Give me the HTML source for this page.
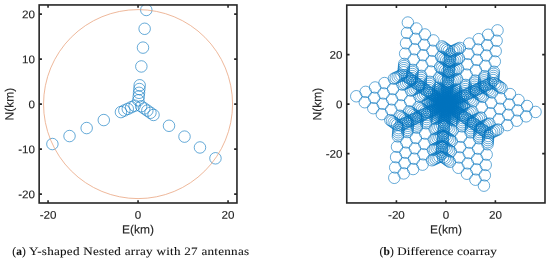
<!DOCTYPE html>
<html><head><meta charset="utf-8"><title>Figure</title>
<style>html,body{margin:0;padding:0;background:#fff}body{width:550px;height:265px;overflow:hidden}svg{display:block}</style>
</head><body>
<svg width="550" height="265" viewBox="0 0 550 265">
<rect width="550" height="265" fill="#fff"/>
<clipPath id="cl"><rect x="39.15" y="4.95" width="197.79999999999998" height="198.05"/></clipPath>
<clipPath id="cr"><rect x="346.75" y="5.1" width="198.25" height="197.85"/></clipPath>
<g clip-path="url(#cl)" fill="none">
<g stroke="#0072BD" stroke-width="0.6">
<circle cx="138.38" cy="100.33" r="5.75"/>
<circle cx="138.71" cy="96.57" r="5.75"/>
<circle cx="139.04" cy="92.80" r="5.75"/>
<circle cx="139.37" cy="89.04" r="5.75"/>
<circle cx="139.70" cy="85.27" r="5.75"/>
<circle cx="141.34" cy="66.44" r="5.75"/>
<circle cx="142.99" cy="47.62" r="5.75"/>
<circle cx="144.64" cy="28.79" r="5.75"/>
<circle cx="146.29" cy="9.96" r="5.75"/>
<circle cx="134.62" cy="105.70" r="5.75"/>
<circle cx="131.20" cy="107.29" r="5.75"/>
<circle cx="127.77" cy="108.89" r="5.75"/>
<circle cx="124.35" cy="110.49" r="5.75"/>
<circle cx="120.92" cy="112.09" r="5.75"/>
<circle cx="103.79" cy="120.07" r="5.75"/>
<circle cx="86.66" cy="128.06" r="5.75"/>
<circle cx="69.53" cy="136.05" r="5.75"/>
<circle cx="52.40" cy="144.04" r="5.75"/>
<circle cx="141.15" cy="106.27" r="5.75"/>
<circle cx="144.24" cy="108.44" r="5.75"/>
<circle cx="147.34" cy="110.60" r="5.75"/>
<circle cx="150.44" cy="112.77" r="5.75"/>
<circle cx="153.53" cy="114.94" r="5.75"/>
<circle cx="169.01" cy="125.78" r="5.75"/>
<circle cx="184.50" cy="136.62" r="5.75"/>
<circle cx="199.98" cy="147.46" r="5.75"/>
<circle cx="215.46" cy="158.30" r="5.75"/>
</g>
<circle cx="138.05" cy="104.1" r="94.50" stroke="#e8a07a" stroke-width="0.75"/>
</g>
<g clip-path="url(#cr)" fill="none" stroke="#0072BD" stroke-width="0.6">
<circle cx="356.26" cy="96.26" r="5.75"/>
<circle cx="364.77" cy="102.22" r="5.75"/>
<circle cx="365.67" cy="91.87" r="5.75"/>
<circle cx="373.28" cy="108.18" r="5.75"/>
<circle cx="374.18" cy="97.83" r="5.75"/>
<circle cx="375.09" cy="87.47" r="5.75"/>
<circle cx="381.79" cy="114.14" r="5.75"/>
<circle cx="382.70" cy="103.79" r="5.75"/>
<circle cx="383.60" cy="93.43" r="5.75"/>
<circle cx="384.51" cy="83.08" r="5.75"/>
<circle cx="390.30" cy="120.10" r="5.75"/>
<circle cx="391.21" cy="109.75" r="5.75"/>
<circle cx="392.00" cy="121.29" r="5.75"/>
<circle cx="392.11" cy="99.39" r="5.75"/>
<circle cx="393.02" cy="89.04" r="5.75"/>
<circle cx="393.71" cy="122.48" r="5.75"/>
<circle cx="393.92" cy="78.69" r="5.75"/>
<circle cx="394.29" cy="177.81" r="5.75"/>
<circle cx="395.19" cy="167.46" r="5.75"/>
<circle cx="395.41" cy="123.67" r="5.75"/>
<circle cx="395.81" cy="77.81" r="5.75"/>
<circle cx="396.10" cy="157.11" r="5.75"/>
<circle cx="397.00" cy="146.76" r="5.75"/>
<circle cx="397.11" cy="124.86" r="5.75"/>
<circle cx="397.69" cy="76.94" r="5.75"/>
<circle cx="397.91" cy="136.41" r="5.75"/>
<circle cx="398.09" cy="134.34" r="5.75"/>
<circle cx="398.27" cy="132.27" r="5.75"/>
<circle cx="398.45" cy="130.20" r="5.75"/>
<circle cx="398.63" cy="128.13" r="5.75"/>
<circle cx="399.57" cy="76.06" r="5.75"/>
<circle cx="399.72" cy="115.71" r="5.75"/>
<circle cx="400.62" cy="105.35" r="5.75"/>
<circle cx="400.70" cy="125.18" r="5.75"/>
<circle cx="401.42" cy="116.90" r="5.75"/>
<circle cx="401.46" cy="75.18" r="5.75"/>
<circle cx="401.53" cy="95.00" r="5.75"/>
<circle cx="402.44" cy="84.65" r="5.75"/>
<circle cx="402.58" cy="124.30" r="5.75"/>
<circle cx="403.12" cy="118.09" r="5.75"/>
<circle cx="403.52" cy="72.23" r="5.75"/>
<circle cx="403.70" cy="173.42" r="5.75"/>
<circle cx="403.70" cy="70.16" r="5.75"/>
<circle cx="403.89" cy="68.09" r="5.75"/>
<circle cx="404.07" cy="66.02" r="5.75"/>
<circle cx="404.25" cy="63.95" r="5.75"/>
<circle cx="404.32" cy="83.77" r="5.75"/>
<circle cx="404.46" cy="123.42" r="5.75"/>
<circle cx="404.61" cy="163.07" r="5.75"/>
<circle cx="404.83" cy="119.28" r="5.75"/>
<circle cx="405.04" cy="75.49" r="5.75"/>
<circle cx="405.15" cy="53.60" r="5.75"/>
<circle cx="405.51" cy="152.72" r="5.75"/>
<circle cx="406.06" cy="43.25" r="5.75"/>
<circle cx="406.20" cy="82.90" r="5.75"/>
<circle cx="406.35" cy="122.54" r="5.75"/>
<circle cx="406.42" cy="142.37" r="5.75"/>
<circle cx="406.53" cy="120.47" r="5.75"/>
<circle cx="406.75" cy="76.68" r="5.75"/>
<circle cx="406.96" cy="32.90" r="5.75"/>
<circle cx="407.33" cy="132.02" r="5.75"/>
<circle cx="407.51" cy="129.95" r="5.75"/>
<circle cx="407.69" cy="127.88" r="5.75"/>
<circle cx="407.87" cy="125.81" r="5.75"/>
<circle cx="407.87" cy="22.54" r="5.75"/>
<circle cx="408.05" cy="123.74" r="5.75"/>
<circle cx="408.09" cy="82.02" r="5.75"/>
<circle cx="408.23" cy="121.67" r="5.75"/>
<circle cx="408.45" cy="77.88" r="5.75"/>
<circle cx="409.14" cy="111.31" r="5.75"/>
<circle cx="409.97" cy="81.14" r="5.75"/>
<circle cx="410.04" cy="100.96" r="5.75"/>
<circle cx="410.11" cy="120.79" r="5.75"/>
<circle cx="410.15" cy="79.07" r="5.75"/>
<circle cx="410.84" cy="112.51" r="5.75"/>
<circle cx="410.95" cy="90.61" r="5.75"/>
<circle cx="411.85" cy="80.26" r="5.75"/>
<circle cx="412.00" cy="119.91" r="5.75"/>
<circle cx="412.03" cy="78.19" r="5.75"/>
<circle cx="412.22" cy="76.12" r="5.75"/>
<circle cx="412.40" cy="74.05" r="5.75"/>
<circle cx="412.54" cy="113.70" r="5.75"/>
<circle cx="412.58" cy="71.98" r="5.75"/>
<circle cx="412.76" cy="69.91" r="5.75"/>
<circle cx="412.83" cy="89.73" r="5.75"/>
<circle cx="413.12" cy="169.03" r="5.75"/>
<circle cx="413.56" cy="81.45" r="5.75"/>
<circle cx="413.66" cy="59.56" r="5.75"/>
<circle cx="413.88" cy="119.03" r="5.75"/>
<circle cx="414.03" cy="158.68" r="5.75"/>
<circle cx="414.24" cy="114.89" r="5.75"/>
<circle cx="414.57" cy="49.21" r="5.75"/>
<circle cx="414.71" cy="88.86" r="5.75"/>
<circle cx="414.93" cy="148.33" r="5.75"/>
<circle cx="415.26" cy="82.64" r="5.75"/>
<circle cx="415.48" cy="38.86" r="5.75"/>
<circle cx="415.76" cy="118.15" r="5.75"/>
<circle cx="415.84" cy="137.98" r="5.75"/>
<circle cx="415.95" cy="116.08" r="5.75"/>
<circle cx="416.38" cy="28.50" r="5.75"/>
<circle cx="416.60" cy="87.98" r="5.75"/>
<circle cx="416.74" cy="127.63" r="5.75"/>
<circle cx="416.92" cy="125.56" r="5.75"/>
<circle cx="416.96" cy="83.84" r="5.75"/>
<circle cx="417.10" cy="123.48" r="5.75"/>
<circle cx="417.29" cy="121.41" r="5.75"/>
<circle cx="417.47" cy="119.34" r="5.75"/>
<circle cx="417.65" cy="117.27" r="5.75"/>
<circle cx="418.48" cy="87.10" r="5.75"/>
<circle cx="418.55" cy="106.92" r="5.75"/>
<circle cx="418.66" cy="85.03" r="5.75"/>
<circle cx="419.46" cy="96.57" r="5.75"/>
<circle cx="419.53" cy="116.40" r="5.75"/>
<circle cx="420.26" cy="108.11" r="5.75"/>
<circle cx="420.37" cy="86.22" r="5.75"/>
<circle cx="420.55" cy="84.15" r="5.75"/>
<circle cx="420.73" cy="82.08" r="5.75"/>
<circle cx="420.91" cy="80.01" r="5.75"/>
<circle cx="421.09" cy="77.94" r="5.75"/>
<circle cx="421.27" cy="75.87" r="5.75"/>
<circle cx="421.34" cy="95.69" r="5.75"/>
<circle cx="421.42" cy="115.52" r="5.75"/>
<circle cx="421.96" cy="109.31" r="5.75"/>
<circle cx="422.07" cy="87.41" r="5.75"/>
<circle cx="422.18" cy="65.52" r="5.75"/>
<circle cx="422.54" cy="164.64" r="5.75"/>
<circle cx="423.08" cy="55.17" r="5.75"/>
<circle cx="423.23" cy="94.81" r="5.75"/>
<circle cx="423.30" cy="114.64" r="5.75"/>
<circle cx="423.44" cy="154.29" r="5.75"/>
<circle cx="423.66" cy="110.50" r="5.75"/>
<circle cx="423.77" cy="88.60" r="5.75"/>
<circle cx="423.99" cy="44.82" r="5.75"/>
<circle cx="424.35" cy="143.94" r="5.75"/>
<circle cx="424.89" cy="34.46" r="5.75"/>
<circle cx="425.11" cy="93.94" r="5.75"/>
<circle cx="425.18" cy="113.76" r="5.75"/>
<circle cx="425.25" cy="133.59" r="5.75"/>
<circle cx="425.36" cy="111.69" r="5.75"/>
<circle cx="425.47" cy="89.80" r="5.75"/>
<circle cx="426.16" cy="123.23" r="5.75"/>
<circle cx="426.34" cy="121.16" r="5.75"/>
<circle cx="426.52" cy="119.09" r="5.75"/>
<circle cx="426.70" cy="117.02" r="5.75"/>
<circle cx="426.88" cy="114.95" r="5.75"/>
<circle cx="426.99" cy="93.06" r="5.75"/>
<circle cx="427.07" cy="112.88" r="5.75"/>
<circle cx="427.17" cy="90.99" r="5.75"/>
<circle cx="427.97" cy="102.53" r="5.75"/>
<circle cx="428.88" cy="92.18" r="5.75"/>
<circle cx="428.95" cy="112.00" r="5.75"/>
<circle cx="429.06" cy="90.11" r="5.75"/>
<circle cx="429.24" cy="88.04" r="5.75"/>
<circle cx="429.42" cy="85.97" r="5.75"/>
<circle cx="429.60" cy="83.90" r="5.75"/>
<circle cx="429.67" cy="103.72" r="5.75"/>
<circle cx="429.78" cy="81.83" r="5.75"/>
<circle cx="429.85" cy="101.65" r="5.75"/>
<circle cx="430.58" cy="93.37" r="5.75"/>
<circle cx="430.69" cy="71.48" r="5.75"/>
<circle cx="430.83" cy="111.13" r="5.75"/>
<circle cx="431.38" cy="104.92" r="5.75"/>
<circle cx="431.56" cy="102.85" r="5.75"/>
<circle cx="431.59" cy="61.13" r="5.75"/>
<circle cx="431.74" cy="100.77" r="5.75"/>
<circle cx="431.95" cy="160.25" r="5.75"/>
<circle cx="432.28" cy="94.56" r="5.75"/>
<circle cx="432.50" cy="50.78" r="5.75"/>
<circle cx="432.72" cy="110.25" r="5.75"/>
<circle cx="432.86" cy="149.90" r="5.75"/>
<circle cx="433.08" cy="106.11" r="5.75"/>
<circle cx="433.26" cy="104.04" r="5.75"/>
<circle cx="433.40" cy="40.42" r="5.75"/>
<circle cx="433.44" cy="101.97" r="5.75"/>
<circle cx="433.62" cy="99.90" r="5.75"/>
<circle cx="433.77" cy="139.55" r="5.75"/>
<circle cx="433.84" cy="159.37" r="5.75"/>
<circle cx="433.98" cy="95.76" r="5.75"/>
<circle cx="434.60" cy="109.37" r="5.75"/>
<circle cx="434.67" cy="129.19" r="5.75"/>
<circle cx="434.74" cy="149.02" r="5.75"/>
<circle cx="434.78" cy="107.30" r="5.75"/>
<circle cx="434.96" cy="105.23" r="5.75"/>
<circle cx="435.14" cy="103.16" r="5.75"/>
<circle cx="435.32" cy="101.09" r="5.75"/>
<circle cx="435.50" cy="99.02" r="5.75"/>
<circle cx="435.58" cy="118.84" r="5.75"/>
<circle cx="435.65" cy="138.67" r="5.75"/>
<circle cx="435.69" cy="96.95" r="5.75"/>
<circle cx="435.72" cy="158.49" r="5.75"/>
<circle cx="435.76" cy="116.77" r="5.75"/>
<circle cx="435.94" cy="114.70" r="5.75"/>
<circle cx="436.12" cy="112.63" r="5.75"/>
<circle cx="436.30" cy="110.56" r="5.75"/>
<circle cx="436.48" cy="108.49" r="5.75"/>
<circle cx="436.55" cy="128.32" r="5.75"/>
<circle cx="436.63" cy="148.14" r="5.75"/>
<circle cx="436.66" cy="106.42" r="5.75"/>
<circle cx="436.84" cy="104.35" r="5.75"/>
<circle cx="437.03" cy="102.28" r="5.75"/>
<circle cx="437.21" cy="100.21" r="5.75"/>
<circle cx="437.39" cy="98.14" r="5.75"/>
<circle cx="437.46" cy="117.96" r="5.75"/>
<circle cx="437.53" cy="137.79" r="5.75"/>
<circle cx="437.57" cy="96.07" r="5.75"/>
<circle cx="437.61" cy="157.61" r="5.75"/>
<circle cx="437.64" cy="115.89" r="5.75"/>
<circle cx="437.75" cy="94.00" r="5.75"/>
<circle cx="437.82" cy="113.82" r="5.75"/>
<circle cx="437.93" cy="91.93" r="5.75"/>
<circle cx="438.00" cy="111.75" r="5.75"/>
<circle cx="438.11" cy="89.86" r="5.75"/>
<circle cx="438.19" cy="109.68" r="5.75"/>
<circle cx="438.29" cy="87.79" r="5.75"/>
<circle cx="438.37" cy="107.61" r="5.75"/>
<circle cx="438.44" cy="127.44" r="5.75"/>
<circle cx="438.51" cy="147.26" r="5.75"/>
<circle cx="438.55" cy="105.54" r="5.75"/>
<circle cx="438.73" cy="103.47" r="5.75"/>
<circle cx="438.91" cy="101.40" r="5.75"/>
<circle cx="439.09" cy="99.33" r="5.75"/>
<circle cx="439.20" cy="77.44" r="5.75"/>
<circle cx="439.27" cy="97.26" r="5.75"/>
<circle cx="439.34" cy="117.09" r="5.75"/>
<circle cx="439.42" cy="136.91" r="5.75"/>
<circle cx="439.45" cy="95.19" r="5.75"/>
<circle cx="439.49" cy="156.73" r="5.75"/>
<circle cx="439.53" cy="115.02" r="5.75"/>
<circle cx="439.63" cy="93.12" r="5.75"/>
<circle cx="439.71" cy="112.95" r="5.75"/>
<circle cx="439.82" cy="91.05" r="5.75"/>
<circle cx="439.89" cy="110.88" r="5.75"/>
<circle cx="440.00" cy="88.98" r="5.75"/>
<circle cx="440.07" cy="108.81" r="5.75"/>
<circle cx="440.11" cy="67.09" r="5.75"/>
<circle cx="440.25" cy="106.73" r="5.75"/>
<circle cx="440.32" cy="126.56" r="5.75"/>
<circle cx="440.39" cy="146.38" r="5.75"/>
<circle cx="440.43" cy="104.66" r="5.75"/>
<circle cx="440.61" cy="102.59" r="5.75"/>
<circle cx="440.79" cy="100.52" r="5.75"/>
<circle cx="440.90" cy="78.63" r="5.75"/>
<circle cx="440.97" cy="98.45" r="5.75"/>
<circle cx="441.01" cy="56.74" r="5.75"/>
<circle cx="441.16" cy="96.38" r="5.75"/>
<circle cx="441.23" cy="116.21" r="5.75"/>
<circle cx="441.30" cy="136.03" r="5.75"/>
<circle cx="441.34" cy="94.31" r="5.75"/>
<circle cx="441.41" cy="114.14" r="5.75"/>
<circle cx="441.52" cy="92.24" r="5.75"/>
<circle cx="441.55" cy="153.79" r="5.75"/>
<circle cx="441.59" cy="112.07" r="5.75"/>
<circle cx="441.70" cy="90.17" r="5.75"/>
<circle cx="441.73" cy="151.72" r="5.75"/>
<circle cx="441.77" cy="110.00" r="5.75"/>
<circle cx="441.81" cy="68.28" r="5.75"/>
<circle cx="441.92" cy="149.65" r="5.75"/>
<circle cx="441.92" cy="46.38" r="5.75"/>
<circle cx="441.95" cy="107.93" r="5.75"/>
<circle cx="442.10" cy="147.58" r="5.75"/>
<circle cx="442.13" cy="105.86" r="5.75"/>
<circle cx="442.21" cy="125.68" r="5.75"/>
<circle cx="442.28" cy="145.51" r="5.75"/>
<circle cx="442.31" cy="103.79" r="5.75"/>
<circle cx="442.46" cy="143.43" r="5.75"/>
<circle cx="442.50" cy="101.72" r="5.75"/>
<circle cx="442.60" cy="79.82" r="5.75"/>
<circle cx="442.64" cy="141.36" r="5.75"/>
<circle cx="442.68" cy="99.65" r="5.75"/>
<circle cx="442.71" cy="57.93" r="5.75"/>
<circle cx="442.82" cy="139.29" r="5.75"/>
<circle cx="442.86" cy="97.58" r="5.75"/>
<circle cx="443.00" cy="137.22" r="5.75"/>
<circle cx="443.04" cy="95.51" r="5.75"/>
<circle cx="443.07" cy="157.05" r="5.75"/>
<circle cx="443.11" cy="115.33" r="5.75"/>
<circle cx="443.18" cy="135.15" r="5.75"/>
<circle cx="443.22" cy="93.44" r="5.75"/>
<circle cx="443.29" cy="113.26" r="5.75"/>
<circle cx="443.36" cy="133.08" r="5.75"/>
<circle cx="443.40" cy="91.36" r="5.75"/>
<circle cx="443.47" cy="111.19" r="5.75"/>
<circle cx="443.51" cy="69.47" r="5.75"/>
<circle cx="443.55" cy="131.01" r="5.75"/>
<circle cx="443.62" cy="47.58" r="5.75"/>
<circle cx="443.65" cy="109.12" r="5.75"/>
<circle cx="443.73" cy="128.94" r="5.75"/>
<circle cx="443.84" cy="107.05" r="5.75"/>
<circle cx="443.91" cy="126.87" r="5.75"/>
<circle cx="443.98" cy="146.70" r="5.75"/>
<circle cx="444.02" cy="104.98" r="5.75"/>
<circle cx="444.09" cy="124.80" r="5.75"/>
<circle cx="444.20" cy="102.91" r="5.75"/>
<circle cx="444.27" cy="122.73" r="5.75"/>
<circle cx="444.31" cy="81.01" r="5.75"/>
<circle cx="444.38" cy="100.84" r="5.75"/>
<circle cx="444.42" cy="59.12" r="5.75"/>
<circle cx="444.45" cy="120.66" r="5.75"/>
<circle cx="444.56" cy="98.77" r="5.75"/>
<circle cx="444.63" cy="118.59" r="5.75"/>
<circle cx="444.74" cy="96.70" r="5.75"/>
<circle cx="444.78" cy="158.24" r="5.75"/>
<circle cx="444.81" cy="116.52" r="5.75"/>
<circle cx="444.89" cy="136.35" r="5.75"/>
<circle cx="444.92" cy="94.63" r="5.75"/>
<circle cx="444.99" cy="114.45" r="5.75"/>
<circle cx="445.10" cy="92.56" r="5.75"/>
<circle cx="445.18" cy="112.38" r="5.75"/>
<circle cx="445.21" cy="70.66" r="5.75"/>
<circle cx="445.32" cy="48.77" r="5.75"/>
<circle cx="445.36" cy="110.31" r="5.75"/>
<circle cx="445.54" cy="108.24" r="5.75"/>
<circle cx="445.68" cy="147.89" r="5.75"/>
<circle cx="445.72" cy="106.17" r="5.75"/>
<circle cx="445.79" cy="125.99" r="5.75"/>
<circle cx="445.90" cy="104.10" r="5.75"/>
<circle cx="446.01" cy="82.21" r="5.75"/>
<circle cx="446.08" cy="102.03" r="5.75"/>
<circle cx="446.12" cy="60.31" r="5.75"/>
<circle cx="446.26" cy="99.96" r="5.75"/>
<circle cx="446.44" cy="97.89" r="5.75"/>
<circle cx="446.48" cy="159.43" r="5.75"/>
<circle cx="446.59" cy="137.54" r="5.75"/>
<circle cx="446.62" cy="95.82" r="5.75"/>
<circle cx="446.70" cy="115.64" r="5.75"/>
<circle cx="446.81" cy="93.75" r="5.75"/>
<circle cx="446.88" cy="113.57" r="5.75"/>
<circle cx="446.91" cy="71.85" r="5.75"/>
<circle cx="446.99" cy="91.68" r="5.75"/>
<circle cx="447.02" cy="49.96" r="5.75"/>
<circle cx="447.06" cy="111.50" r="5.75"/>
<circle cx="447.17" cy="89.61" r="5.75"/>
<circle cx="447.24" cy="109.43" r="5.75"/>
<circle cx="447.35" cy="87.54" r="5.75"/>
<circle cx="447.38" cy="149.08" r="5.75"/>
<circle cx="447.42" cy="107.36" r="5.75"/>
<circle cx="447.49" cy="127.19" r="5.75"/>
<circle cx="447.53" cy="85.47" r="5.75"/>
<circle cx="447.60" cy="105.29" r="5.75"/>
<circle cx="447.71" cy="83.40" r="5.75"/>
<circle cx="447.78" cy="103.22" r="5.75"/>
<circle cx="447.82" cy="61.50" r="5.75"/>
<circle cx="447.89" cy="81.33" r="5.75"/>
<circle cx="447.96" cy="101.15" r="5.75"/>
<circle cx="448.07" cy="79.26" r="5.75"/>
<circle cx="448.15" cy="99.08" r="5.75"/>
<circle cx="448.18" cy="160.62" r="5.75"/>
<circle cx="448.25" cy="77.19" r="5.75"/>
<circle cx="448.29" cy="138.73" r="5.75"/>
<circle cx="448.33" cy="97.01" r="5.75"/>
<circle cx="448.40" cy="116.84" r="5.75"/>
<circle cx="448.44" cy="75.12" r="5.75"/>
<circle cx="448.51" cy="94.94" r="5.75"/>
<circle cx="448.58" cy="114.76" r="5.75"/>
<circle cx="448.62" cy="73.05" r="5.75"/>
<circle cx="448.69" cy="92.87" r="5.75"/>
<circle cx="448.73" cy="51.15" r="5.75"/>
<circle cx="448.76" cy="112.69" r="5.75"/>
<circle cx="448.80" cy="70.98" r="5.75"/>
<circle cx="448.94" cy="110.62" r="5.75"/>
<circle cx="448.98" cy="68.91" r="5.75"/>
<circle cx="449.09" cy="150.27" r="5.75"/>
<circle cx="449.12" cy="108.55" r="5.75"/>
<circle cx="449.16" cy="66.84" r="5.75"/>
<circle cx="449.20" cy="128.38" r="5.75"/>
<circle cx="449.30" cy="106.48" r="5.75"/>
<circle cx="449.34" cy="64.77" r="5.75"/>
<circle cx="449.49" cy="104.41" r="5.75"/>
<circle cx="449.52" cy="62.69" r="5.75"/>
<circle cx="449.59" cy="82.52" r="5.75"/>
<circle cx="449.67" cy="102.34" r="5.75"/>
<circle cx="449.70" cy="60.62" r="5.75"/>
<circle cx="449.85" cy="100.27" r="5.75"/>
<circle cx="449.88" cy="161.82" r="5.75"/>
<circle cx="449.88" cy="58.55" r="5.75"/>
<circle cx="449.99" cy="139.92" r="5.75"/>
<circle cx="450.03" cy="98.20" r="5.75"/>
<circle cx="450.07" cy="56.48" r="5.75"/>
<circle cx="450.10" cy="118.03" r="5.75"/>
<circle cx="450.21" cy="96.13" r="5.75"/>
<circle cx="450.25" cy="54.41" r="5.75"/>
<circle cx="450.28" cy="115.96" r="5.75"/>
<circle cx="450.39" cy="94.06" r="5.75"/>
<circle cx="450.46" cy="113.89" r="5.75"/>
<circle cx="450.50" cy="72.17" r="5.75"/>
<circle cx="450.57" cy="91.99" r="5.75"/>
<circle cx="450.64" cy="111.82" r="5.75"/>
<circle cx="450.79" cy="151.46" r="5.75"/>
<circle cx="450.83" cy="109.75" r="5.75"/>
<circle cx="450.90" cy="129.57" r="5.75"/>
<circle cx="451.01" cy="107.68" r="5.75"/>
<circle cx="451.19" cy="105.61" r="5.75"/>
<circle cx="451.37" cy="103.54" r="5.75"/>
<circle cx="451.41" cy="61.82" r="5.75"/>
<circle cx="451.48" cy="81.64" r="5.75"/>
<circle cx="451.55" cy="101.47" r="5.75"/>
<circle cx="451.69" cy="141.11" r="5.75"/>
<circle cx="451.73" cy="99.39" r="5.75"/>
<circle cx="451.80" cy="119.22" r="5.75"/>
<circle cx="451.91" cy="97.32" r="5.75"/>
<circle cx="451.98" cy="117.15" r="5.75"/>
<circle cx="452.09" cy="95.25" r="5.75"/>
<circle cx="452.17" cy="115.08" r="5.75"/>
<circle cx="452.27" cy="93.18" r="5.75"/>
<circle cx="452.31" cy="51.47" r="5.75"/>
<circle cx="452.35" cy="113.01" r="5.75"/>
<circle cx="452.38" cy="71.29" r="5.75"/>
<circle cx="452.46" cy="91.11" r="5.75"/>
<circle cx="452.53" cy="110.94" r="5.75"/>
<circle cx="452.60" cy="130.76" r="5.75"/>
<circle cx="452.71" cy="108.87" r="5.75"/>
<circle cx="452.89" cy="106.80" r="5.75"/>
<circle cx="453.07" cy="104.73" r="5.75"/>
<circle cx="453.25" cy="102.66" r="5.75"/>
<circle cx="453.29" cy="60.94" r="5.75"/>
<circle cx="453.36" cy="80.76" r="5.75"/>
<circle cx="453.43" cy="100.59" r="5.75"/>
<circle cx="453.51" cy="120.41" r="5.75"/>
<circle cx="453.61" cy="98.52" r="5.75"/>
<circle cx="453.69" cy="118.34" r="5.75"/>
<circle cx="453.80" cy="96.45" r="5.75"/>
<circle cx="453.87" cy="116.27" r="5.75"/>
<circle cx="453.98" cy="94.38" r="5.75"/>
<circle cx="454.05" cy="114.20" r="5.75"/>
<circle cx="454.16" cy="92.31" r="5.75"/>
<circle cx="454.19" cy="50.59" r="5.75"/>
<circle cx="454.23" cy="112.13" r="5.75"/>
<circle cx="454.27" cy="70.41" r="5.75"/>
<circle cx="454.34" cy="90.24" r="5.75"/>
<circle cx="454.41" cy="110.06" r="5.75"/>
<circle cx="454.59" cy="107.99" r="5.75"/>
<circle cx="454.77" cy="105.92" r="5.75"/>
<circle cx="454.96" cy="103.85" r="5.75"/>
<circle cx="455.14" cy="101.78" r="5.75"/>
<circle cx="455.17" cy="60.06" r="5.75"/>
<circle cx="455.25" cy="79.88" r="5.75"/>
<circle cx="455.32" cy="99.71" r="5.75"/>
<circle cx="455.50" cy="97.64" r="5.75"/>
<circle cx="455.68" cy="95.57" r="5.75"/>
<circle cx="455.86" cy="93.50" r="5.75"/>
<circle cx="456.04" cy="91.43" r="5.75"/>
<circle cx="456.08" cy="49.71" r="5.75"/>
<circle cx="456.11" cy="111.25" r="5.75"/>
<circle cx="456.15" cy="69.53" r="5.75"/>
<circle cx="456.22" cy="89.36" r="5.75"/>
<circle cx="456.30" cy="109.18" r="5.75"/>
<circle cx="456.48" cy="107.11" r="5.75"/>
<circle cx="456.66" cy="105.04" r="5.75"/>
<circle cx="456.84" cy="102.97" r="5.75"/>
<circle cx="457.02" cy="100.90" r="5.75"/>
<circle cx="457.06" cy="59.18" r="5.75"/>
<circle cx="457.13" cy="79.01" r="5.75"/>
<circle cx="457.20" cy="98.83" r="5.75"/>
<circle cx="457.82" cy="112.44" r="5.75"/>
<circle cx="457.96" cy="48.83" r="5.75"/>
<circle cx="458.03" cy="68.65" r="5.75"/>
<circle cx="458.18" cy="108.30" r="5.75"/>
<circle cx="458.36" cy="106.23" r="5.75"/>
<circle cx="458.40" cy="167.78" r="5.75"/>
<circle cx="458.54" cy="104.16" r="5.75"/>
<circle cx="458.72" cy="102.09" r="5.75"/>
<circle cx="458.94" cy="58.30" r="5.75"/>
<circle cx="459.08" cy="97.95" r="5.75"/>
<circle cx="459.30" cy="157.42" r="5.75"/>
<circle cx="459.52" cy="113.64" r="5.75"/>
<circle cx="459.85" cy="47.95" r="5.75"/>
<circle cx="460.06" cy="107.43" r="5.75"/>
<circle cx="460.21" cy="147.07" r="5.75"/>
<circle cx="460.24" cy="105.35" r="5.75"/>
<circle cx="460.42" cy="103.28" r="5.75"/>
<circle cx="460.97" cy="97.07" r="5.75"/>
<circle cx="461.11" cy="136.72" r="5.75"/>
<circle cx="461.22" cy="114.83" r="5.75"/>
<circle cx="461.95" cy="106.55" r="5.75"/>
<circle cx="462.02" cy="126.37" r="5.75"/>
<circle cx="462.13" cy="104.48" r="5.75"/>
<circle cx="462.20" cy="124.30" r="5.75"/>
<circle cx="462.38" cy="122.23" r="5.75"/>
<circle cx="462.56" cy="120.16" r="5.75"/>
<circle cx="462.74" cy="118.09" r="5.75"/>
<circle cx="462.85" cy="96.20" r="5.75"/>
<circle cx="462.92" cy="116.02" r="5.75"/>
<circle cx="463.83" cy="105.67" r="5.75"/>
<circle cx="464.63" cy="117.21" r="5.75"/>
<circle cx="464.73" cy="95.32" r="5.75"/>
<circle cx="464.81" cy="115.14" r="5.75"/>
<circle cx="464.92" cy="93.25" r="5.75"/>
<circle cx="465.10" cy="91.18" r="5.75"/>
<circle cx="465.28" cy="89.11" r="5.75"/>
<circle cx="465.46" cy="87.04" r="5.75"/>
<circle cx="465.64" cy="84.97" r="5.75"/>
<circle cx="466.33" cy="118.40" r="5.75"/>
<circle cx="466.44" cy="96.51" r="5.75"/>
<circle cx="466.55" cy="74.61" r="5.75"/>
<circle cx="466.62" cy="94.44" r="5.75"/>
<circle cx="466.69" cy="114.26" r="5.75"/>
<circle cx="466.91" cy="173.74" r="5.75"/>
<circle cx="467.45" cy="64.26" r="5.75"/>
<circle cx="467.81" cy="163.38" r="5.75"/>
<circle cx="468.03" cy="119.60" r="5.75"/>
<circle cx="468.14" cy="97.70" r="5.75"/>
<circle cx="468.36" cy="53.91" r="5.75"/>
<circle cx="468.50" cy="93.56" r="5.75"/>
<circle cx="468.57" cy="113.39" r="5.75"/>
<circle cx="468.72" cy="153.03" r="5.75"/>
<circle cx="469.26" cy="43.56" r="5.75"/>
<circle cx="469.62" cy="142.68" r="5.75"/>
<circle cx="469.73" cy="120.79" r="5.75"/>
<circle cx="469.84" cy="98.89" r="5.75"/>
<circle cx="470.38" cy="92.68" r="5.75"/>
<circle cx="470.46" cy="112.51" r="5.75"/>
<circle cx="470.53" cy="132.33" r="5.75"/>
<circle cx="470.71" cy="130.26" r="5.75"/>
<circle cx="470.89" cy="128.19" r="5.75"/>
<circle cx="471.07" cy="126.12" r="5.75"/>
<circle cx="471.25" cy="124.05" r="5.75"/>
<circle cx="471.43" cy="121.98" r="5.75"/>
<circle cx="471.54" cy="100.09" r="5.75"/>
<circle cx="472.27" cy="91.80" r="5.75"/>
<circle cx="472.34" cy="111.63" r="5.75"/>
<circle cx="473.14" cy="123.17" r="5.75"/>
<circle cx="473.25" cy="101.28" r="5.75"/>
<circle cx="473.32" cy="121.10" r="5.75"/>
<circle cx="474.15" cy="90.93" r="5.75"/>
<circle cx="474.33" cy="88.86" r="5.75"/>
<circle cx="474.51" cy="86.79" r="5.75"/>
<circle cx="474.70" cy="84.72" r="5.75"/>
<circle cx="474.84" cy="124.36" r="5.75"/>
<circle cx="474.88" cy="82.64" r="5.75"/>
<circle cx="475.06" cy="80.57" r="5.75"/>
<circle cx="475.20" cy="120.22" r="5.75"/>
<circle cx="475.42" cy="179.70" r="5.75"/>
<circle cx="475.85" cy="92.12" r="5.75"/>
<circle cx="475.96" cy="70.22" r="5.75"/>
<circle cx="476.04" cy="90.05" r="5.75"/>
<circle cx="476.32" cy="169.34" r="5.75"/>
<circle cx="476.54" cy="125.56" r="5.75"/>
<circle cx="476.87" cy="59.87" r="5.75"/>
<circle cx="477.09" cy="119.34" r="5.75"/>
<circle cx="477.23" cy="158.99" r="5.75"/>
<circle cx="477.56" cy="93.31" r="5.75"/>
<circle cx="477.77" cy="49.52" r="5.75"/>
<circle cx="477.92" cy="89.17" r="5.75"/>
<circle cx="478.14" cy="148.64" r="5.75"/>
<circle cx="478.24" cy="126.75" r="5.75"/>
<circle cx="478.68" cy="39.17" r="5.75"/>
<circle cx="478.97" cy="118.47" r="5.75"/>
<circle cx="479.04" cy="138.29" r="5.75"/>
<circle cx="479.22" cy="136.22" r="5.75"/>
<circle cx="479.26" cy="94.50" r="5.75"/>
<circle cx="479.40" cy="134.15" r="5.75"/>
<circle cx="479.58" cy="132.08" r="5.75"/>
<circle cx="479.77" cy="130.01" r="5.75"/>
<circle cx="479.80" cy="88.29" r="5.75"/>
<circle cx="479.95" cy="127.94" r="5.75"/>
<circle cx="480.85" cy="117.59" r="5.75"/>
<circle cx="480.96" cy="95.69" r="5.75"/>
<circle cx="481.65" cy="129.13" r="5.75"/>
<circle cx="481.69" cy="87.41" r="5.75"/>
<circle cx="481.76" cy="107.24" r="5.75"/>
<circle cx="481.83" cy="127.06" r="5.75"/>
<circle cx="482.66" cy="96.89" r="5.75"/>
<circle cx="483.35" cy="130.32" r="5.75"/>
<circle cx="483.57" cy="86.53" r="5.75"/>
<circle cx="483.71" cy="126.18" r="5.75"/>
<circle cx="483.75" cy="84.46" r="5.75"/>
<circle cx="483.93" cy="185.66" r="5.75"/>
<circle cx="483.93" cy="82.39" r="5.75"/>
<circle cx="484.11" cy="80.32" r="5.75"/>
<circle cx="484.29" cy="78.25" r="5.75"/>
<circle cx="484.47" cy="76.18" r="5.75"/>
<circle cx="484.84" cy="175.30" r="5.75"/>
<circle cx="485.05" cy="131.52" r="5.75"/>
<circle cx="485.27" cy="87.73" r="5.75"/>
<circle cx="485.38" cy="65.83" r="5.75"/>
<circle cx="485.45" cy="85.66" r="5.75"/>
<circle cx="485.60" cy="125.30" r="5.75"/>
<circle cx="485.74" cy="164.95" r="5.75"/>
<circle cx="486.29" cy="55.48" r="5.75"/>
<circle cx="486.65" cy="154.60" r="5.75"/>
<circle cx="486.76" cy="132.71" r="5.75"/>
<circle cx="486.97" cy="88.92" r="5.75"/>
<circle cx="487.19" cy="45.13" r="5.75"/>
<circle cx="487.34" cy="84.78" r="5.75"/>
<circle cx="487.48" cy="124.43" r="5.75"/>
<circle cx="487.55" cy="144.25" r="5.75"/>
<circle cx="487.73" cy="142.18" r="5.75"/>
<circle cx="487.91" cy="140.11" r="5.75"/>
<circle cx="488.10" cy="138.04" r="5.75"/>
<circle cx="488.10" cy="34.78" r="5.75"/>
<circle cx="488.28" cy="135.97" r="5.75"/>
<circle cx="488.68" cy="90.11" r="5.75"/>
<circle cx="489.22" cy="83.90" r="5.75"/>
<circle cx="489.36" cy="123.55" r="5.75"/>
<circle cx="490.27" cy="113.20" r="5.75"/>
<circle cx="490.34" cy="133.02" r="5.75"/>
<circle cx="490.38" cy="91.30" r="5.75"/>
<circle cx="491.10" cy="83.02" r="5.75"/>
<circle cx="491.18" cy="102.85" r="5.75"/>
<circle cx="492.08" cy="92.49" r="5.75"/>
<circle cx="492.23" cy="132.14" r="5.75"/>
<circle cx="493.17" cy="80.07" r="5.75"/>
<circle cx="493.35" cy="78.00" r="5.75"/>
<circle cx="493.53" cy="75.93" r="5.75"/>
<circle cx="493.71" cy="73.86" r="5.75"/>
<circle cx="493.89" cy="71.79" r="5.75"/>
<circle cx="494.11" cy="131.26" r="5.75"/>
<circle cx="494.69" cy="83.34" r="5.75"/>
<circle cx="494.80" cy="61.44" r="5.75"/>
<circle cx="495.70" cy="51.09" r="5.75"/>
<circle cx="495.99" cy="130.39" r="5.75"/>
<circle cx="496.39" cy="84.53" r="5.75"/>
<circle cx="496.61" cy="40.74" r="5.75"/>
<circle cx="497.51" cy="30.39" r="5.75"/>
<circle cx="497.88" cy="129.51" r="5.75"/>
<circle cx="498.09" cy="85.72" r="5.75"/>
<circle cx="498.78" cy="119.16" r="5.75"/>
<circle cx="499.69" cy="108.81" r="5.75"/>
<circle cx="499.80" cy="86.91" r="5.75"/>
<circle cx="500.59" cy="98.45" r="5.75"/>
<circle cx="501.50" cy="88.10" r="5.75"/>
<circle cx="507.29" cy="125.12" r="5.75"/>
<circle cx="508.20" cy="114.77" r="5.75"/>
<circle cx="509.10" cy="104.41" r="5.75"/>
<circle cx="510.01" cy="94.06" r="5.75"/>
<circle cx="516.71" cy="120.73" r="5.75"/>
<circle cx="517.62" cy="110.37" r="5.75"/>
<circle cx="518.52" cy="100.02" r="5.75"/>
<circle cx="526.13" cy="116.33" r="5.75"/>
<circle cx="527.03" cy="105.98" r="5.75"/>
<circle cx="535.54" cy="111.94" r="5.75"/>
</g>
<g stroke="#262626" stroke-width="1.6" fill="none">
<rect x="39.15" y="4.95" width="197.79999999999998" height="198.05"/>
<path d="M48.05 203.0v-2.8M48.05 4.95v2.8"/>
<path d="M138.05 203.0v-2.8M138.05 4.95v2.8"/>
<path d="M228.05 203.0v-2.8M228.05 4.95v2.8"/>
<path d="M39.15 194.10h2.8M236.95 194.10h-2.8"/>
<path d="M39.15 149.10h2.8M236.95 149.10h-2.8"/>
<path d="M39.15 104.10h2.8M236.95 104.10h-2.8"/>
<path d="M39.15 59.10h2.8M236.95 59.10h-2.8"/>
<path d="M39.15 14.10h2.8M236.95 14.10h-2.8"/>
</g>
<g font-family="Liberation Sans, Arial, sans-serif" font-size="11.2" fill="#262626" stroke="#262626" stroke-width="0.12">
<text transform="translate(48.05 218.80) rotate(0.03) scale(1.04 1)" text-anchor="middle">-20</text>
<text transform="translate(138.05 218.80) rotate(0.03) scale(1.04 1)" text-anchor="middle">0</text>
<text transform="translate(228.05 218.80) rotate(0.03) scale(1.04 1)" text-anchor="middle">20</text>
<text transform="translate(34.95 198.20) rotate(0.03) scale(1.04 1)" text-anchor="end">-20</text>
<text transform="translate(34.95 153.20) rotate(0.03) scale(1.04 1)" text-anchor="end">-10</text>
<text transform="translate(34.95 108.20) rotate(0.03) scale(1.04 1)" text-anchor="end">0</text>
<text transform="translate(34.95 63.20) rotate(0.03) scale(1.04 1)" text-anchor="end">10</text>
<text transform="translate(34.95 18.20) rotate(0.03) scale(1.04 1)" text-anchor="end">20</text>
</g>
<g font-family="Liberation Sans, Arial, sans-serif" font-size="12.0" fill="#262626" stroke="#262626" stroke-width="0.12">
<text transform="translate(138.05 233.60) rotate(0.03)" text-anchor="middle">E(km)</text>
<text transform="translate(13.55 104.10) rotate(-90.03)" text-anchor="middle">N(km)</text>
</g>
<g stroke="#262626" stroke-width="1.6" fill="none">
<rect x="346.75" y="5.1" width="198.25" height="197.85"/>
<path d="M396.42 202.95v-2.8M396.42 5.1v2.8"/>
<path d="M445.90 202.95v-2.8M445.90 5.1v2.8"/>
<path d="M495.38 202.95v-2.8M495.38 5.1v2.8"/>
<path d="M346.75 153.58h2.8M545.0 153.58h-2.8"/>
<path d="M346.75 104.10h2.8M545.0 104.10h-2.8"/>
<path d="M346.75 54.62h2.8M545.0 54.62h-2.8"/>
</g>
<g font-family="Liberation Sans, Arial, sans-serif" font-size="11.2" fill="#262626" stroke="#262626" stroke-width="0.12">
<text transform="translate(396.42 218.75) rotate(0.03) scale(1.04 1)" text-anchor="middle">-20</text>
<text transform="translate(445.90 218.75) rotate(0.03) scale(1.04 1)" text-anchor="middle">0</text>
<text transform="translate(495.38 218.75) rotate(0.03) scale(1.04 1)" text-anchor="middle">20</text>
<text transform="translate(342.55 157.68) rotate(0.03) scale(1.04 1)" text-anchor="end">-20</text>
<text transform="translate(342.55 108.20) rotate(0.03) scale(1.04 1)" text-anchor="end">0</text>
<text transform="translate(342.55 58.72) rotate(0.03) scale(1.04 1)" text-anchor="end">20</text>
</g>
<g font-family="Liberation Sans, Arial, sans-serif" font-size="12.0" fill="#262626" stroke="#262626" stroke-width="0.12">
<text transform="translate(445.90 233.55) rotate(0.03)" text-anchor="middle">E(km)</text>
<text transform="translate(321.15 104.10) rotate(-90.03)" text-anchor="middle">N(km)</text>
</g>
<g font-family="Liberation Serif, Times New Roman, serif" font-size="10" fill="#111" stroke="#111" stroke-width="0.07">
<text transform="translate(12.3 255.0) rotate(0.03) scale(1.1400 1.14)" textLength="11.84" lengthAdjust="spacing">(<tspan font-weight="bold">a</tspan>)</text>
<text transform="translate(28.9 255.0) rotate(0.03) scale(1.3110 1.14)" textLength="167.96" lengthAdjust="spacing">Y-shaped Nested array with 27 antennas</text>
<text transform="translate(379.5 255.0) rotate(0.03) scale(1.1400 1.14)" textLength="12.54" lengthAdjust="spacing">(<tspan font-weight="bold">b</tspan>)</text>
<text transform="translate(397.3 255.0) rotate(0.03) scale(1.3110 1.14)" textLength="75.90" lengthAdjust="spacing">Difference coarray</text>
</g>
</svg>
</body></html>
